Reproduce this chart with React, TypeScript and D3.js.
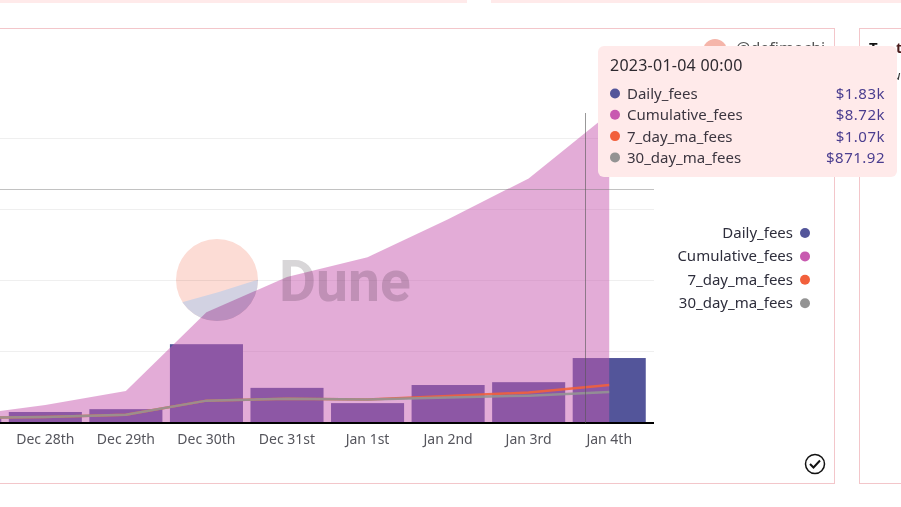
import * as d3 from "d3"

const days = ["Dec 27th", "Dec 28th", "Dec 29th", "Dec 30th", "Dec 31st", "Jan 1st", "Jan 2nd", "Jan 3rd", "Jan 4th"]
const dailyFees = [0.14, 0.31, 0.39, 2.22, 0.99, 0.56, 1.07, 1.15, 1.83]
const cumulativeFees = [0.2, 0.51, 0.9, 3.12, 4.11, 4.67, 5.74, 6.89, 8.72]
const ma7Fees = [0.14, 0.17, 0.23, 0.63, 0.68, 0.66, 0.76, 0.86, 1.07]
const ma30Fees = [0.14, 0.17, 0.23, 0.63, 0.68, 0.66, 0.72, 0.77, 0.87]
const yTicks = [2, 4, 6, 8]

const seriesNames = ["Daily_fees", "Cumulative_fees", "7_day_ma_fees", "30_day_ma_fees"]
const seriesColors = ["#53559a", "#c85ab0", "#f2603c", "#939393"]
const tooltipDate = "2023-01-04 00:00"
const tooltipValues = ["$1.83k", "$8.72k", "$1.07k", "$871.92"]

const FONT = "'Noto Sans', sans-serif"
const BORDER = "#f3c6ca"

export default function App() {
  const x = d3
    .scaleBand<string>()
    .domain(days)
    .range([-75.5, 649.5])
    .paddingInner(0.093)
    .paddingOuter(0.0465)
  const y = d3.scaleLinear().domain([0, 10]).range([423, 68])
  const cx = (d: string) => (x(d) as number) + x.bandwidth() / 2

  const area = d3
    .area<string>()
    .x(cx)
    .y0(y(0))
    .y1((d, i) => y(cumulativeFees[i]))

  const line = (values: number[]) =>
    d3
      .line<string>()
      .x(cx)
      .y((d, i) => y(values[i]))(days) as string

  return (
    <svg
      width={901}
      height={507}
      style={{ position: "absolute", left: 0, top: 0, background: "#fff" }}
      fontFamily={FONT}
    >
      <defs>
        <clipPath id="logo">
          <circle cx={217} cy={280} r={41} />
        </clipPath>
      </defs>

      {/* page strips and cards */}
      <rect x={0} y={0} width={467} height={3} fill="#ffeaea" />
      <rect x={491} y={0} width={410} height={3} fill="#ffeaea" />
      <rect x={-10} y={28.5} width={844.5} height={455} fill="#fff" stroke={BORDER} />
      <rect x={859.5} y={28.5} width={60} height={455} fill="#fff" stroke={BORDER} />

      {/* grid */}
      {yTicks.map((t) => (
        <line key={t} x1={0} x2={654} y1={y(t) - 0.5} y2={y(t) - 0.5} stroke="#efefef" />
      ))}

      {/* bars */}
      {days.map((d, i) => (
        <rect
          key={d}
          x={x(d)}
          y={y(dailyFees[i])}
          width={x.bandwidth()}
          height={y(0) - y(dailyFees[i])}
          fill={seriesColors[0]}
        />
      ))}

      {/* cumulative */}
      <path d={area(days) as string} fill={seriesColors[1]} fillOpacity={0.5} />

      {/* moving averages */}
      <path d={line(ma7Fees)} fill="none" stroke={seriesColors[2]} strokeWidth={2.5} strokeOpacity={0.9} />
      <path d={line(ma30Fees)} fill="none" stroke={seriesColors[3]} strokeWidth={2.5} strokeOpacity={0.9} />

      {/* axis, the first day falls outside the crop so it gets no label */}
      <line x1={0} x2={654} y1={423} y2={423} stroke="#000" strokeWidth={2} />
      {days.slice(1).map((d) => (
        <text key={d} x={cx(d)} y={444} textAnchor="middle" fontSize={14} fill="#55555c">
          {d}
        </text>
      ))}

      {/* watermark */}
      <g style={{ mixBlendMode: "multiply" }}>
        <circle cx={217} cy={280} r={41} fill="#fcdcd5" />
        <path d="M170 306 L183 302 Q222 292 260 279 L265 330 L170 330 Z" fill="#d2d2e2" clipPath="url(#logo)" />
        <text x={279} y={301} fontSize={57} fontWeight={700} fill="#d8d6d8" fontFamily="Roboto, sans-serif">
          Dune
        </text>
      </g>

      {/* crosshair */}
      <line x1={0} x2={654} y1={189.5} y2={189.5} stroke="#777" strokeOpacity={0.45} />
      <line x1={585.5} x2={585.5} y1={113} y2={423} stroke="#555" strokeOpacity={0.6} />

      {/* legend */}
      {seriesNames.map((n, i) => (
        <g key={n}>
          <text x={793} y={238 + i * 23.4} textAnchor="end" fontSize={15} fill="#2e2e3c">
            {n}
          </text>
          <circle cx={805} cy={233 + i * 23.4} r={5} fill={seriesColors[i]} />
        </g>
      ))}

      {/* verified mark */}
      <circle cx={815} cy={464} r={9.5} fill="none" stroke="#111" strokeWidth={1.5} />
      <path d="M810 464 L813.5 467.5 L820 460.5" fill="none" stroke="#111" strokeWidth={2} />

      {/* author and next card, mostly behind the tooltip */}
      <circle cx={715} cy={51} r={12} fill="#f5b5aa" />
      <text x={736} y={54} fontSize={16} fill="#555">
        @defimochi
      </text>
      <text x={869} y={53} fontSize={15} fontWeight={700} fill="#111">
        T
      </text>
      <text x={896} y={53} fontSize={14} fontWeight={700} fill="#4a1a1a">
        t
      </text>
      <text x={893} y={80} fontSize={13} fontStyle="italic" fill="#333">
        u
      </text>

      {/* tooltip */}
      <rect x={598} y={46} width={299} height={131} rx={6} fill="#ffeaea" />
      <text x={610} y={70.5} fontSize={16} letterSpacing={0.25} fill="#2e2a30">
        {tooltipDate}
      </text>
      {seriesNames.map((n, i) => (
        <g key={n}>
          <circle cx={615} cy={93.5 + i * 21.3} r={5} fill={seriesColors[i]} />
          <text x={627} y={99 + i * 21.3} fontSize={15} fill="#3c3640">
            {n}
          </text>
          <text x={885} y={99 + i * 21.3} textAnchor="end" fontSize={15} letterSpacing={0.5} fill="#4a3d8f">
            {tooltipValues[i]}
          </text>
        </g>
      ))}
    </svg>
  )
}
